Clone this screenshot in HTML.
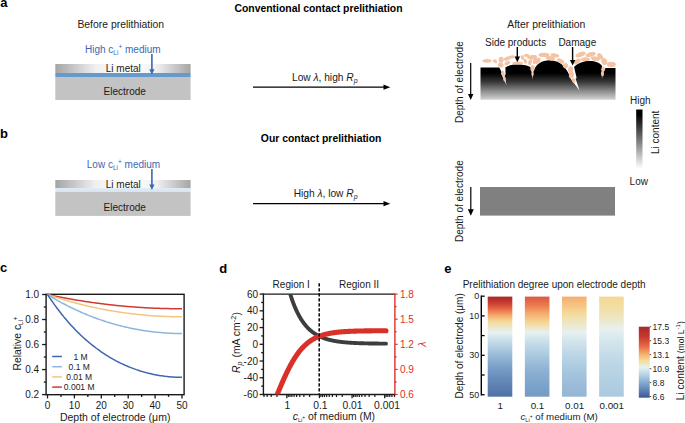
<!DOCTYPE html>
<html><head><meta charset="utf-8"><style>
html,body{margin:0;padding:0;background:#fff;}
svg{display:block;font-family:"Liberation Sans", sans-serif;}
</style></head><body>
<svg width="685" height="423" viewBox="0 0 685 423">
<defs><linearGradient id="limetal" x1="0" x2="1" y1="0" y2="0"><stop offset="0" stop-color="#a5a5a5"/><stop offset="0.3" stop-color="#f0f0f0"/><stop offset="0.55" stop-color="#ffffff"/><stop offset="0.75" stop-color="#f0f0f0"/><stop offset="1" stop-color="#a5a5a5"/></linearGradient><linearGradient id="blackgrad" x1="0" x2="0" y1="60" y2="99.8" gradientUnits="userSpaceOnUse"><stop offset="0" stop-color="#000"/><stop offset="0.33" stop-color="#000"/><stop offset="0.55" stop-color="#383838"/><stop offset="0.78" stop-color="#8c8c8c"/><stop offset="1" stop-color="#d4d4d4"/></linearGradient><linearGradient id="lcbar" x1="0" x2="0" y1="0" y2="1"><stop offset="0" stop-color="#000"/><stop offset="0.09" stop-color="#000"/><stop offset="1" stop-color="#fff"/></linearGradient><linearGradient id="ecbar" x1="0" x2="0" y1="0" y2="1"><stop offset="0.0" stop-color="#a52a28"/><stop offset="0.1432" stop-color="#c8382e"/><stop offset="0.2865" stop-color="#e9704a"/><stop offset="0.382" stop-color="#f5ad6c"/><stop offset="0.4775" stop-color="#f4dc9c"/><stop offset="0.573" stop-color="#e6f1f1"/><stop offset="0.6797" stop-color="#b6d2e4"/><stop offset="0.8078" stop-color="#7ca3cb"/><stop offset="1.0" stop-color="#3b5995"/></linearGradient><linearGradient id="bar0" x1="0" x2="0" y1="0" y2="1"><stop offset="0.00" stop-color="#a52a28"/><stop offset="0.04" stop-color="#bd332c"/><stop offset="0.08" stop-color="#d14836"/><stop offset="0.12" stop-color="#e36645"/><stop offset="0.16" stop-color="#ef8d5a"/><stop offset="0.20" stop-color="#f5b675"/><stop offset="0.24" stop-color="#f4d392"/><stop offset="0.28" stop-color="#f0e2b5"/><stop offset="0.32" stop-color="#eaead6"/><stop offset="0.36" stop-color="#e6f1f1"/><stop offset="0.40" stop-color="#d7e7ed"/><stop offset="0.44" stop-color="#c8dee9"/><stop offset="0.48" stop-color="#bad5e5"/><stop offset="0.52" stop-color="#adcae0"/><stop offset="0.56" stop-color="#a0c0da"/><stop offset="0.60" stop-color="#94b7d5"/><stop offset="0.64" stop-color="#89aed1"/><stop offset="0.68" stop-color="#7fa5cc"/><stop offset="0.72" stop-color="#779dc7"/><stop offset="0.76" stop-color="#7096c1"/><stop offset="0.80" stop-color="#6a8ebc"/><stop offset="0.84" stop-color="#6488b7"/><stop offset="0.88" stop-color="#5f82b3"/><stop offset="0.92" stop-color="#5a7cae"/><stop offset="0.96" stop-color="#5576ab"/><stop offset="1.00" stop-color="#5172a7"/></linearGradient><linearGradient id="bar1" x1="0" x2="0" y1="0" y2="1"><stop offset="0.00" stop-color="#dc5a3f"/><stop offset="0.04" stop-color="#e36745"/><stop offset="0.08" stop-color="#ea774e"/><stop offset="0.12" stop-color="#ef8e5b"/><stop offset="0.16" stop-color="#f4a768"/><stop offset="0.20" stop-color="#f5bb7a"/><stop offset="0.24" stop-color="#f4ce8d"/><stop offset="0.28" stop-color="#f2dea5"/><stop offset="0.32" stop-color="#ece8ce"/><stop offset="0.36" stop-color="#e6f1f1"/><stop offset="0.40" stop-color="#d8e8ed"/><stop offset="0.44" stop-color="#cce0ea"/><stop offset="0.48" stop-color="#c1d9e7"/><stop offset="0.52" stop-color="#b8d3e5"/><stop offset="0.56" stop-color="#b0cde1"/><stop offset="0.60" stop-color="#a8c6de"/><stop offset="0.64" stop-color="#a0c0da"/><stop offset="0.68" stop-color="#98bad7"/><stop offset="0.72" stop-color="#91b4d4"/><stop offset="0.76" stop-color="#8bafd2"/><stop offset="0.80" stop-color="#86abcf"/><stop offset="0.84" stop-color="#81a7cd"/><stop offset="0.88" stop-color="#7ca3cb"/><stop offset="0.92" stop-color="#79a0c9"/><stop offset="0.96" stop-color="#779dc7"/><stop offset="1.00" stop-color="#759bc5"/></linearGradient><linearGradient id="bar2" x1="0" x2="0" y1="0" y2="1"><stop offset="0.00" stop-color="#f5ad6c"/><stop offset="0.04" stop-color="#f5b877"/><stop offset="0.08" stop-color="#f5c382"/><stop offset="0.12" stop-color="#f4cd8d"/><stop offset="0.16" stop-color="#f4d898"/><stop offset="0.20" stop-color="#f2dfa7"/><stop offset="0.24" stop-color="#efe3b9"/><stop offset="0.28" stop-color="#ece8cb"/><stop offset="0.32" stop-color="#e9ecdf"/><stop offset="0.36" stop-color="#e6f1f1"/><stop offset="0.40" stop-color="#ddebef"/><stop offset="0.44" stop-color="#d4e6ec"/><stop offset="0.48" stop-color="#cde1ea"/><stop offset="0.52" stop-color="#c6dce8"/><stop offset="0.56" stop-color="#bfd8e7"/><stop offset="0.60" stop-color="#b9d4e5"/><stop offset="0.64" stop-color="#b4d0e3"/><stop offset="0.68" stop-color="#afcce1"/><stop offset="0.72" stop-color="#aac8df"/><stop offset="0.76" stop-color="#a6c5dd"/><stop offset="0.80" stop-color="#a2c2dc"/><stop offset="0.84" stop-color="#9fbfda"/><stop offset="0.88" stop-color="#9bbcd9"/><stop offset="0.92" stop-color="#99bad7"/><stop offset="0.96" stop-color="#96b8d6"/><stop offset="1.00" stop-color="#94b7d5"/></linearGradient><linearGradient id="bar3" x1="0" x2="0" y1="0" y2="1"><stop offset="0.00" stop-color="#f4d797"/><stop offset="0.04" stop-color="#f4da9a"/><stop offset="0.08" stop-color="#f3dda0"/><stop offset="0.12" stop-color="#f2dfa9"/><stop offset="0.16" stop-color="#f0e2b3"/><stop offset="0.20" stop-color="#eee4be"/><stop offset="0.24" stop-color="#ece8cc"/><stop offset="0.28" stop-color="#e9ecde"/><stop offset="0.32" stop-color="#e7f0ee"/><stop offset="0.36" stop-color="#e1eef0"/><stop offset="0.40" stop-color="#dbeaee"/><stop offset="0.44" stop-color="#d5e6ec"/><stop offset="0.48" stop-color="#d0e3eb"/><stop offset="0.52" stop-color="#cce0ea"/><stop offset="0.56" stop-color="#c7dde9"/><stop offset="0.60" stop-color="#c3dbe8"/><stop offset="0.64" stop-color="#bfd8e7"/><stop offset="0.68" stop-color="#bcd6e6"/><stop offset="0.72" stop-color="#bad4e5"/><stop offset="0.76" stop-color="#b7d3e4"/><stop offset="0.80" stop-color="#b5d1e3"/><stop offset="0.84" stop-color="#b2cfe2"/><stop offset="0.88" stop-color="#b0cde2"/><stop offset="0.92" stop-color="#afcce1"/><stop offset="0.96" stop-color="#adcbe0"/><stop offset="1.00" stop-color="#accae0"/></linearGradient></defs>
<rect width="685" height="423" fill="#fff"/>
<text x="0.2" y="7.2" font-size="13" fill="#000" text-anchor="start" font-weight="bold" >a</text>
<text x="77.4" y="28" font-size="10.4" fill="#1a1a1a" text-anchor="start" font-weight="normal" >Before prelithiation</text>
<text x="85" y="52.9" font-size="10" fill="#3a68b0" text-anchor="start" font-weight="normal" >High c<tspan font-size="6.5" dy="2">Li</tspan><tspan font-size="6.5" dy="-5.5">+</tspan><tspan dy="3.5"> medium</tspan></text>
<rect x="55.3" y="64" width="135.3" height="9" fill="url(#limetal)"/>
<rect x="55.3" y="73" width="135.3" height="4" fill="#6699cc"/>
<rect x="55.3" y="77" width="135.3" height="23" fill="#c3c3c3"/>
<text x="105.8" y="71.9" font-size="10" fill="#1a1a1a" text-anchor="start" font-weight="normal" >Li metal</text>
<text x="103.6" y="95.2" font-size="10" fill="#1a1a1a" text-anchor="start" font-weight="normal" >Electrode</text>
<line x1="151.9" y1="54.1" x2="151.9" y2="70" stroke="#3a68b0" stroke-width="1.6"/>
<path d="M149.3,69.2 L154.5,69.2 L151.9,74.6 Z" fill="#3a68b0"/>
<text x="234.5" y="11.5" font-size="10.4" fill="#000" text-anchor="start" font-weight="bold" >Conventional contact prelithiation</text>
<text x="292" y="81.3" font-size="10.2" fill="#1a1a1a" text-anchor="start" font-weight="normal" >Low <tspan font-style="italic">λ</tspan>, high <tspan font-style="italic">R</tspan><tspan font-style="italic" font-size="7" dy="2">p</tspan></text>
<line x1="253" y1="87.2" x2="384" y2="87.2" stroke="#000" stroke-width="1.3"/>
<path d="M383.5,84.6 L390.3,87.2 L383.5,89.8 Z" fill="#000"/>
<text x="507.3" y="27.5" font-size="10.4" fill="#1a1a1a" text-anchor="start" font-weight="normal" >After prelithiation</text>
<text x="485" y="45.5" font-size="10" fill="#1a1a1a" text-anchor="start" font-weight="normal" >Side products</text>
<text x="558.4" y="45.5" font-size="10" fill="#1a1a1a" text-anchor="start" font-weight="normal" >Damage</text>
<text x="0" y="0" font-size="10" fill="#1a1a1a" transform="translate(462.8,123) rotate(-90)">Depth of electrode</text>
<line x1="470.7" y1="63" x2="470.7" y2="95" stroke="#000" stroke-width="1.2"/>
<path d="M468,94 L473.4,94 L470.7,100 Z" fill="#000"/>
<path d="M480.5,99.8 L480.5,67.4 L499.3,67.6 L501.8,72.5 L501,73.2 L506.4,84.9 L504.6,75.5 L505.6,74.6 L505.4,67.4 C508.5,65.2 513,64.6 518,64.6 C523.5,64.6 528.5,65.4 531.2,68 L532.4,79.2 L533.3,72 C536,63.5 542,60.2 549.5,60.2 C557,60.2 563.5,63.8 567.3,71.2 L569.6,75.2 L568.8,76.2 L579.5,90.5 L575.6,78.8 L576.6,78 L574.1,67 C578,62.8 584,61 590,61 C595.5,61 599.8,62.8 602,65.8 L601.9,79.3 L603.2,71.8 L605.5,68 L615.5,68 L615.5,99.8 Z" fill="url(#blackgrad)"/>
<ellipse cx="0" cy="0" rx="4.56" ry="1.88" fill="#f2c4a4" transform="translate(487,60.8) rotate(0)"/>
<ellipse cx="0" cy="0" rx="2.40" ry="1.62" fill="#f2c4a4" transform="translate(495,61.2) rotate(30)"/>
<ellipse cx="0" cy="0" rx="2.52" ry="3.00" fill="#f2c4a4" transform="translate(501.2,59.8) rotate(0)"/>
<ellipse cx="0" cy="0" rx="2.88" ry="2.38" fill="#f2c4a4" transform="translate(500.7,65) rotate(20)"/>
<ellipse cx="0" cy="0" rx="3.60" ry="1.88" fill="#f2c4a4" transform="translate(507.3,58.4) rotate(-20)"/>
<ellipse cx="0" cy="0" rx="3.12" ry="1.62" fill="#f2c4a4" transform="translate(511.5,57) rotate(-10)"/>
<ellipse cx="0" cy="0" rx="3.00" ry="1.88" fill="#f2c4a4" transform="translate(507.3,63.1) rotate(-30)"/>
<ellipse cx="0" cy="0" rx="5.40" ry="1.62" fill="#f2c4a4" transform="translate(517.7,63.0) rotate(0)"/>
<ellipse cx="0" cy="0" rx="1.80" ry="2.50" fill="#f2c4a4" transform="translate(522.5,57.5) rotate(-20)"/>
<ellipse cx="0" cy="0" rx="1.80" ry="2.50" fill="#f2c4a4" transform="translate(525.3,61.2) rotate(-20)"/>
<ellipse cx="0" cy="0" rx="4.20" ry="1.75" fill="#f2c4a4" transform="translate(531,57) rotate(-10)"/>
<ellipse cx="0" cy="0" rx="1.80" ry="3.00" fill="#f2c4a4" transform="translate(530,62.2) rotate(10)"/>
<ellipse cx="0" cy="0" rx="1.80" ry="3.00" fill="#f2c4a4" transform="translate(534.8,61.2) rotate(20)"/>
<ellipse cx="0" cy="0" rx="1.56" ry="3.00" fill="#f2c4a4" transform="translate(503,73.5) rotate(-10)"/>
<ellipse cx="0" cy="0" rx="1.32" ry="2.50" fill="#f2c4a4" transform="translate(504.5,79) rotate(-10)"/>
<ellipse cx="0" cy="0" rx="1.56" ry="2.50" fill="#f2c4a4" transform="translate(532.9,68.8) rotate(0)"/>
<ellipse cx="0" cy="0" rx="1.20" ry="2.00" fill="#f2c4a4" transform="translate(532.6,74) rotate(0)"/>
<ellipse cx="0" cy="0" rx="3.96" ry="2.12" fill="#f2c4a4" transform="translate(533.3,57.4) rotate(-15)"/>
<ellipse cx="0" cy="0" rx="3.60" ry="2.38" fill="#f2c4a4" transform="translate(537.5,60.7) rotate(-45)"/>
<ellipse cx="0" cy="0" rx="2.04" ry="3.25" fill="#f2c4a4" transform="translate(532.5,68.2) rotate(10)"/>
<ellipse cx="0" cy="0" rx="5.40" ry="2.12" fill="#f2c4a4" transform="translate(544,54.9) rotate(0)"/>
<ellipse cx="0" cy="0" rx="4.80" ry="2.25" fill="#f2c4a4" transform="translate(550.3,58.2) rotate(10)"/>
<ellipse cx="0" cy="0" rx="4.44" ry="1.88" fill="#f2c4a4" transform="translate(554.8,55.3) rotate(10)"/>
<ellipse cx="0" cy="0" rx="3.96" ry="2.00" fill="#f2c4a4" transform="translate(560.6,61.1) rotate(30)"/>
<ellipse cx="0" cy="0" rx="2.64" ry="2.62" fill="#f2c4a4" transform="translate(565.6,65.7) rotate(50)"/>
<ellipse cx="0" cy="0" rx="2.52" ry="3.25" fill="#f2c4a4" transform="translate(570.6,69.4) rotate(0)"/>
<ellipse cx="0" cy="0" rx="2.52" ry="3.25" fill="#f2c4a4" transform="translate(571.4,74.8) rotate(0)"/>
<ellipse cx="0" cy="0" rx="1.80" ry="2.75" fill="#f2c4a4" transform="translate(573.6,80.5) rotate(-20)"/>
<ellipse cx="0" cy="0" rx="5.40" ry="2.50" fill="#f2c4a4" transform="translate(580.6,54.5) rotate(-20)"/>
<ellipse cx="0" cy="0" rx="3.96" ry="2.38" fill="#f2c4a4" transform="translate(577.1,61.5) rotate(-30)"/>
<ellipse cx="0" cy="0" rx="5.40" ry="2.25" fill="#f2c4a4" transform="translate(590.7,54.5) rotate(-15)"/>
<ellipse cx="0" cy="0" rx="4.56" ry="1.88" fill="#f2c4a4" transform="translate(585.4,59.2) rotate(0)"/>
<ellipse cx="0" cy="0" rx="4.56" ry="2.12" fill="#f2c4a4" transform="translate(595.4,58.6) rotate(10)"/>
<ellipse cx="0" cy="0" rx="2.28" ry="3.50" fill="#f2c4a4" transform="translate(600.1,56.2) rotate(-40)"/>
<ellipse cx="0" cy="0" rx="2.88" ry="3.50" fill="#f2c4a4" transform="translate(604.3,61.5) rotate(-20)"/>
<ellipse cx="0" cy="0" rx="4.44" ry="2.75" fill="#f2c4a4" transform="translate(611.4,64.5) rotate(0)"/>
<ellipse cx="0" cy="0" rx="1.92" ry="2.75" fill="#f2c4a4" transform="translate(603.1,69.2) rotate(0)"/>
<ellipse cx="0" cy="0" rx="1.56" ry="2.75" fill="#f2c4a4" transform="translate(602.5,73.4) rotate(0)"/>
<ellipse cx="0" cy="0" rx="2.76" ry="1.62" fill="#f2c4a4" transform="translate(526.5,55.3) rotate(0)"/>
<line x1="517.3" y1="47" x2="517.3" y2="57" stroke="#000" stroke-width="1.4"/>
<path d="M514.6,56.5 L520,56.5 L517.3,62.2 Z" fill="#000"/>
<line x1="572.6" y1="47" x2="572.6" y2="60.5" stroke="#000" stroke-width="1.4"/>
<path d="M569.9,60 L575.3,60 L572.6,65.6 Z" fill="#000"/>
<text x="630" y="104" font-size="10" fill="#1a1a1a" text-anchor="start" font-weight="normal" >High</text>
<rect x="636.2" y="109.5" width="6.3" height="59" fill="url(#lcbar)"/>
<text x="0" y="0" font-size="10" fill="#1a1a1a" transform="translate(658.7,154) rotate(-90)">Li content</text>
<text x="629.6" y="184.6" font-size="10" fill="#1a1a1a" text-anchor="start" font-weight="normal" >Low</text>
<text x="0" y="137.7" font-size="13" fill="#000" text-anchor="start" font-weight="bold" >b</text>
<text x="260.8" y="141.5" font-size="10.4" fill="#000" text-anchor="start" font-weight="bold" >Our contact prelithiation</text>
<text x="86.8" y="167.9" font-size="10" fill="#3a68b0" text-anchor="start" font-weight="normal" >Low c<tspan font-size="6.5" dy="2">Li</tspan><tspan font-size="6.5" dy="-5.5">+</tspan><tspan dy="3.5"> medium</tspan></text>
<rect x="55.3" y="180" width="135.3" height="8.3" fill="url(#limetal)"/>
<rect x="55.3" y="188.3" width="135.3" height="3.5" fill="#dbe7f3"/>
<rect x="55.3" y="191.8" width="135.3" height="24.1" fill="#c3c3c3"/>
<text x="105.8" y="187.8" font-size="10" fill="#1a1a1a" text-anchor="start" font-weight="normal" >Li metal</text>
<text x="103.6" y="211" font-size="10" fill="#1a1a1a" text-anchor="start" font-weight="normal" >Electrode</text>
<line x1="151.9" y1="169.1" x2="151.9" y2="185.5" stroke="#3a68b0" stroke-width="1.6"/>
<path d="M149.3,184.4 L154.5,184.4 L151.9,190 Z" fill="#3a68b0"/>
<text x="293.7" y="196.8" font-size="10.2" fill="#1a1a1a" text-anchor="start" font-weight="normal" >High <tspan font-style="italic">λ</tspan>, low <tspan font-style="italic">R</tspan><tspan font-style="italic" font-size="7" dy="2">p</tspan></text>
<line x1="253" y1="203.7" x2="384" y2="203.7" stroke="#000" stroke-width="1.3"/>
<path d="M383.5,201.1 L390.3,203.7 L383.5,206.3 Z" fill="#000"/>
<text x="0" y="0" font-size="10" fill="#1a1a1a" transform="translate(462.8,242) rotate(-90)">Depth of electrode</text>
<line x1="470.8" y1="187" x2="470.8" y2="210" stroke="#000" stroke-width="1.2"/>
<path d="M467.8,209.3 L473.8,209.3 L470.8,215.8 Z" fill="#000"/>
<rect x="480" y="187" width="135" height="28.6" fill="#808080"/>
<text x="0" y="272" font-size="13" fill="#000" text-anchor="start" font-weight="bold" >c</text>
<rect x="46.1" y="294.3" width="138.0" height="100.39999999999998" fill="none" stroke="#1a1a1a" stroke-width="1.4"/>
<line x1="42.1" y1="294.5" x2="46.1" y2="294.5" stroke="#1a1a1a" stroke-width="1.3"/>
<text x="39.2" y="298.1" font-size="10" fill="#1a1a1a" text-anchor="end" font-weight="normal" >1.0</text>
<line x1="42.1" y1="319.52" x2="46.1" y2="319.52" stroke="#1a1a1a" stroke-width="1.3"/>
<text x="39.2" y="323.12" font-size="10" fill="#1a1a1a" text-anchor="end" font-weight="normal" >0.8</text>
<line x1="42.1" y1="344.54" x2="46.1" y2="344.54" stroke="#1a1a1a" stroke-width="1.3"/>
<text x="39.2" y="348.14000000000004" font-size="10" fill="#1a1a1a" text-anchor="end" font-weight="normal" >0.6</text>
<line x1="42.1" y1="369.56" x2="46.1" y2="369.56" stroke="#1a1a1a" stroke-width="1.3"/>
<text x="39.2" y="373.16" font-size="10" fill="#1a1a1a" text-anchor="end" font-weight="normal" >0.4</text>
<line x1="42.1" y1="394.58" x2="46.1" y2="394.58" stroke="#1a1a1a" stroke-width="1.3"/>
<text x="39.2" y="398.18" font-size="10" fill="#1a1a1a" text-anchor="end" font-weight="normal" >0.2</text>
<line x1="43.800000000000004" y1="307.01" x2="46.1" y2="307.01" stroke="#1a1a1a" stroke-width="1.3"/>
<line x1="43.800000000000004" y1="332.03" x2="46.1" y2="332.03" stroke="#1a1a1a" stroke-width="1.3"/>
<line x1="43.800000000000004" y1="357.05" x2="46.1" y2="357.05" stroke="#1a1a1a" stroke-width="1.3"/>
<line x1="43.800000000000004" y1="382.07" x2="46.1" y2="382.07" stroke="#1a1a1a" stroke-width="1.3"/>
<line x1="47.5" y1="394.7" x2="47.5" y2="398.4" stroke="#1a1a1a" stroke-width="1.3"/>
<text x="47.5" y="408.6" font-size="10" fill="#1a1a1a" text-anchor="middle" font-weight="normal" >0</text>
<line x1="74.4" y1="394.7" x2="74.4" y2="398.4" stroke="#1a1a1a" stroke-width="1.3"/>
<text x="74.4" y="408.6" font-size="10" fill="#1a1a1a" text-anchor="middle" font-weight="normal" >10</text>
<line x1="101.3" y1="394.7" x2="101.3" y2="398.4" stroke="#1a1a1a" stroke-width="1.3"/>
<text x="101.3" y="408.6" font-size="10" fill="#1a1a1a" text-anchor="middle" font-weight="normal" >20</text>
<line x1="128.2" y1="394.7" x2="128.2" y2="398.4" stroke="#1a1a1a" stroke-width="1.3"/>
<text x="128.2" y="408.6" font-size="10" fill="#1a1a1a" text-anchor="middle" font-weight="normal" >30</text>
<line x1="155.1" y1="394.7" x2="155.1" y2="398.4" stroke="#1a1a1a" stroke-width="1.3"/>
<text x="155.1" y="408.6" font-size="10" fill="#1a1a1a" text-anchor="middle" font-weight="normal" >40</text>
<line x1="182.0" y1="394.7" x2="182.0" y2="398.4" stroke="#1a1a1a" stroke-width="1.3"/>
<text x="182.0" y="408.6" font-size="10" fill="#1a1a1a" text-anchor="middle" font-weight="normal" >50</text>
<line x1="60.95" y1="394.7" x2="60.95" y2="396.9" stroke="#1a1a1a" stroke-width="1.3"/>
<line x1="87.85" y1="394.7" x2="87.85" y2="396.9" stroke="#1a1a1a" stroke-width="1.3"/>
<line x1="114.75" y1="394.7" x2="114.75" y2="396.9" stroke="#1a1a1a" stroke-width="1.3"/>
<line x1="141.64999999999998" y1="394.7" x2="141.64999999999998" y2="396.9" stroke="#1a1a1a" stroke-width="1.3"/>
<line x1="168.55" y1="394.7" x2="168.55" y2="396.9" stroke="#1a1a1a" stroke-width="1.3"/>
<polyline points="47.50,294.50 48.84,294.79 50.19,295.08 51.53,295.36 52.88,295.64 54.23,295.92 55.57,296.19 56.91,296.46 58.26,296.73 59.61,296.99 60.95,297.26 62.30,297.51 63.64,297.77 64.98,298.02 66.33,298.27 67.67,298.52 69.02,298.76 70.36,299.00 71.71,299.24 73.06,299.47 74.40,299.70 75.75,299.93 77.09,300.16 78.44,300.38 79.78,300.60 81.12,300.81 82.47,301.03 83.81,301.24 85.16,301.44 86.50,301.65 87.85,301.85 89.19,302.05 90.54,302.24 91.88,302.43 93.23,302.62 94.57,302.81 95.92,302.99 97.27,303.17 98.61,303.35 99.95,303.52 101.30,303.70 102.64,303.86 103.99,304.03 105.34,304.19 106.68,304.35 108.03,304.51 109.37,304.66 110.72,304.82 112.06,304.96 113.41,305.11 114.75,305.25 116.09,305.39 117.44,305.53 118.78,305.66 120.13,305.79 121.47,305.92 122.82,306.05 124.16,306.17 125.51,306.29 126.86,306.41 128.20,306.52 129.55,306.63 130.89,306.74 132.24,306.84 133.58,306.95 134.93,307.05 136.27,307.14 137.62,307.24 138.96,307.33 140.31,307.42 141.65,307.50 143.00,307.58 144.34,307.66 145.69,307.74 147.03,307.82 148.38,307.89 149.72,307.96 151.06,308.02 152.41,308.08 153.75,308.14 155.10,308.20 156.44,308.26 157.79,308.31 159.13,308.36 160.48,308.40 161.82,308.45 163.17,308.49 164.51,308.53 165.86,308.56 167.20,308.59 168.55,308.62 169.89,308.65 171.24,308.67 172.58,308.69 173.93,308.71 175.27,308.73 176.62,308.74 177.97,308.75 179.31,308.76 180.66,308.76 182.00,308.76" fill="none" stroke="#d13a33" stroke-width="1.5"/>
<polyline points="47.50,294.50 48.84,294.96 50.19,295.41 51.53,295.86 52.88,296.30 54.23,296.74 55.57,297.17 56.91,297.60 58.26,298.02 59.61,298.44 60.95,298.85 62.30,299.26 63.64,299.66 64.98,300.05 66.33,300.45 67.67,300.83 69.02,301.22 70.36,301.59 71.71,301.96 73.06,302.33 74.40,302.69 75.75,303.05 77.09,303.40 78.44,303.75 79.78,304.09 81.12,304.43 82.47,304.76 83.81,305.09 85.16,305.42 86.50,305.73 87.85,306.05 89.19,306.36 90.54,306.66 91.88,306.96 93.23,307.26 94.57,307.55 95.92,307.83 97.27,308.11 98.61,308.39 99.95,308.66 101.30,308.93 102.64,309.19 103.99,309.45 105.34,309.70 106.68,309.95 108.03,310.19 109.37,310.43 110.72,310.67 112.06,310.90 113.41,311.12 114.75,311.34 116.09,311.56 117.44,311.77 118.78,311.98 120.13,312.18 121.47,312.38 122.82,312.58 124.16,312.77 125.51,312.95 126.86,313.13 128.20,313.31 129.55,313.48 130.89,313.65 132.24,313.81 133.58,313.97 134.93,314.12 136.27,314.27 137.62,314.42 138.96,314.56 140.31,314.69 141.65,314.83 143.00,314.95 144.34,315.08 145.69,315.20 147.03,315.31 148.38,315.42 149.72,315.53 151.06,315.63 152.41,315.73 153.75,315.82 155.10,315.91 156.44,315.99 157.79,316.07 159.13,316.15 160.48,316.22 161.82,316.28 163.17,316.35 164.51,316.40 165.86,316.46 167.20,316.51 168.55,316.55 169.89,316.59 171.24,316.63 172.58,316.66 173.93,316.69 175.27,316.71 176.62,316.73 177.97,316.75 179.31,316.76 180.66,316.77 182.00,316.77" fill="none" stroke="#f5c57f" stroke-width="1.5"/>
<polyline points="47.50,294.50 48.84,295.33 50.19,296.15 51.53,296.96 52.88,297.76 54.23,298.54 55.57,299.32 56.91,300.09 58.26,300.85 59.61,301.59 60.95,302.33 62.30,303.06 63.64,303.78 64.98,304.48 66.33,305.18 67.67,305.87 69.02,306.55 70.36,307.22 71.71,307.88 73.06,308.53 74.40,309.17 75.75,309.80 77.09,310.42 78.44,311.04 79.78,311.64 81.12,312.24 82.47,312.82 83.81,313.40 85.16,313.97 86.50,314.52 87.85,315.07 89.19,315.62 90.54,316.15 91.88,316.67 93.23,317.19 94.57,317.69 95.92,318.19 97.27,318.68 98.61,319.16 99.95,319.63 101.30,320.09 102.64,320.55 103.99,321.00 105.34,321.43 106.68,321.86 108.03,322.29 109.37,322.70 110.72,323.10 112.06,323.50 113.41,323.89 114.75,324.27 116.09,324.64 117.44,325.01 118.78,325.37 120.13,325.71 121.47,326.06 122.82,326.39 124.16,326.71 125.51,327.03 126.86,327.34 128.20,327.64 129.55,327.94 130.89,328.22 132.24,328.50 133.58,328.77 134.93,329.03 136.27,329.29 137.62,329.54 138.96,329.78 140.31,330.01 141.65,330.23 143.00,330.45 144.34,330.66 145.69,330.86 147.03,331.06 148.38,331.25 149.72,331.43 151.06,331.60 152.41,331.76 153.75,331.92 155.10,332.07 156.44,332.21 157.79,332.35 159.13,332.48 160.48,332.60 161.82,332.71 163.17,332.82 164.51,332.92 165.86,333.01 167.20,333.09 168.55,333.17 169.89,333.24 171.24,333.30 172.58,333.35 173.93,333.40 175.27,333.44 176.62,333.47 177.97,333.50 179.31,333.52 180.66,333.53 182.00,333.53" fill="none" stroke="#8cb6dc" stroke-width="1.5"/>
<polyline points="47.50,294.50 48.84,296.54 50.19,298.54 51.53,300.50 52.88,302.43 54.23,304.33 55.57,306.18 56.91,308.00 58.26,309.79 59.61,311.55 60.95,313.27 62.30,314.96 63.64,316.62 64.98,318.24 66.33,319.84 67.67,321.40 69.02,322.93 70.36,324.44 71.71,325.92 73.06,327.36 74.40,328.78 75.75,330.17 77.09,331.54 78.44,332.87 79.78,334.18 81.12,335.47 82.47,336.73 83.81,337.96 85.16,339.17 86.50,340.35 87.85,341.51 89.19,342.65 90.54,343.76 91.88,344.85 93.23,345.91 94.57,346.96 95.92,347.98 97.27,348.98 98.61,349.96 99.95,350.91 101.30,351.85 102.64,352.76 103.99,353.66 105.34,354.53 106.68,355.39 108.03,356.22 109.37,357.04 110.72,357.84 112.06,358.61 113.41,359.37 114.75,360.11 116.09,360.83 117.44,361.54 118.78,362.23 120.13,362.89 121.47,363.55 122.82,364.18 124.16,364.80 125.51,365.40 126.86,365.98 128.20,366.55 129.55,367.10 130.89,367.64 132.24,368.16 133.58,368.66 134.93,369.15 136.27,369.63 137.62,370.08 138.96,370.53 140.31,370.95 141.65,371.37 143.00,371.77 144.34,372.15 145.69,372.52 147.03,372.87 148.38,373.21 149.72,373.54 151.06,373.85 152.41,374.15 153.75,374.44 155.10,374.71 156.44,374.96 157.79,375.21 159.13,375.44 160.48,375.65 161.82,375.85 163.17,376.04 164.51,376.22 165.86,376.38 167.20,376.53 168.55,376.67 169.89,376.79 171.24,376.90 172.58,377.00 173.93,377.08 175.27,377.15 176.62,377.21 177.97,377.26 179.31,377.29 180.66,377.31 182.00,377.32" fill="none" stroke="#3f67ae" stroke-width="1.5"/>
<line x1="52.2" y1="356.5" x2="61.9" y2="356.5" stroke="#3f67ae" stroke-width="1.5"/>
<text x="80.60000000000001" y="359.7" font-size="8.5" fill="#1a1a1a" text-anchor="middle" font-weight="normal" >1 M</text>
<line x1="52.2" y1="366.7" x2="61.9" y2="366.7" stroke="#8cb6dc" stroke-width="1.5"/>
<text x="79.2" y="369.9" font-size="8.5" fill="#1a1a1a" text-anchor="middle" font-weight="normal" >0.1 M</text>
<line x1="52.2" y1="376.9" x2="61.9" y2="376.9" stroke="#f5c57f" stroke-width="1.5"/>
<text x="79.2" y="380.09999999999997" font-size="8.5" fill="#1a1a1a" text-anchor="middle" font-weight="normal" >0.01 M</text>
<line x1="52.2" y1="387.1" x2="61.9" y2="387.1" stroke="#d13a33" stroke-width="1.5"/>
<text x="79.2" y="390.3" font-size="8.5" fill="#1a1a1a" text-anchor="middle" font-weight="normal" >0.001 M</text>
<text x="0" y="0" font-size="10.4" fill="#1a1a1a" transform="translate(21.3,370.5) rotate(-90)">Relative c<tspan font-size="6.3" dy="2">Li</tspan><tspan font-size="6.3" dy="-5" dx="-0.3">+</tspan></text>
<text x="59.9" y="420.6" font-size="10.5" fill="#1a1a1a" text-anchor="start" font-weight="normal" >Depth of electrode (μm)</text>
<text x="219.3" y="273" font-size="13" fill="#000" text-anchor="start" font-weight="bold" >d</text>
<line x1="263.4" y1="294.1" x2="394.9" y2="294.1" stroke="#1a1a1a" stroke-width="1.4"/>
<line x1="263.4" y1="394.5" x2="394.9" y2="394.5" stroke="#1a1a1a" stroke-width="1.4"/>
<line x1="263.4" y1="293.40000000000003" x2="263.4" y2="395.2" stroke="#1a1a1a" stroke-width="1.4"/>
<line x1="394.9" y1="293.40000000000003" x2="394.9" y2="395.2" stroke="#d9302a" stroke-width="1.4"/>
<line x1="259.59999999999997" y1="294.1" x2="263.4" y2="294.1" stroke="#1a1a1a" stroke-width="1.3"/>
<text x="258" y="297.6" font-size="10" fill="#1a1a1a" text-anchor="end" font-weight="normal" >60</text>
<line x1="259.59999999999997" y1="310.83333333333337" x2="263.4" y2="310.83333333333337" stroke="#1a1a1a" stroke-width="1.3"/>
<text x="258" y="314.33333333333337" font-size="10" fill="#1a1a1a" text-anchor="end" font-weight="normal" >40</text>
<line x1="259.59999999999997" y1="327.5666666666667" x2="263.4" y2="327.5666666666667" stroke="#1a1a1a" stroke-width="1.3"/>
<text x="258" y="331.0666666666667" font-size="10" fill="#1a1a1a" text-anchor="end" font-weight="normal" >20</text>
<line x1="259.59999999999997" y1="344.3" x2="263.4" y2="344.3" stroke="#1a1a1a" stroke-width="1.3"/>
<text x="258" y="347.8" font-size="10" fill="#1a1a1a" text-anchor="end" font-weight="normal" >0</text>
<line x1="259.59999999999997" y1="361.03333333333336" x2="263.4" y2="361.03333333333336" stroke="#1a1a1a" stroke-width="1.3"/>
<text x="258" y="364.53333333333336" font-size="10" fill="#1a1a1a" text-anchor="end" font-weight="normal" >-20</text>
<line x1="259.59999999999997" y1="377.7666666666667" x2="263.4" y2="377.7666666666667" stroke="#1a1a1a" stroke-width="1.3"/>
<text x="258" y="381.2666666666667" font-size="10" fill="#1a1a1a" text-anchor="end" font-weight="normal" >-40</text>
<line x1="259.59999999999997" y1="394.5" x2="263.4" y2="394.5" stroke="#1a1a1a" stroke-width="1.3"/>
<text x="258" y="398.0" font-size="10" fill="#1a1a1a" text-anchor="end" font-weight="normal" >-60</text>
<line x1="261.2" y1="302.4666666666667" x2="263.4" y2="302.4666666666667" stroke="#1a1a1a" stroke-width="1.3"/>
<line x1="261.2" y1="319.20000000000005" x2="263.4" y2="319.20000000000005" stroke="#1a1a1a" stroke-width="1.3"/>
<line x1="261.2" y1="335.93333333333334" x2="263.4" y2="335.93333333333334" stroke="#1a1a1a" stroke-width="1.3"/>
<line x1="261.2" y1="352.6666666666667" x2="263.4" y2="352.6666666666667" stroke="#1a1a1a" stroke-width="1.3"/>
<line x1="261.2" y1="369.40000000000003" x2="263.4" y2="369.40000000000003" stroke="#1a1a1a" stroke-width="1.3"/>
<line x1="261.2" y1="386.1333333333333" x2="263.4" y2="386.1333333333333" stroke="#1a1a1a" stroke-width="1.3"/>
<line x1="394.9" y1="294.1" x2="397.7" y2="294.1" stroke="#d9302a" stroke-width="1.1"/>
<text x="399.9" y="297.70000000000005" font-size="10" fill="#d9302a" text-anchor="start" font-weight="normal" >1.8</text>
<line x1="394.9" y1="319.20000000000005" x2="397.7" y2="319.20000000000005" stroke="#d9302a" stroke-width="1.1"/>
<text x="399.9" y="322.80000000000007" font-size="10" fill="#d9302a" text-anchor="start" font-weight="normal" >1.5</text>
<line x1="394.9" y1="344.30000000000007" x2="397.7" y2="344.30000000000007" stroke="#d9302a" stroke-width="1.1"/>
<text x="399.9" y="347.9000000000001" font-size="10" fill="#d9302a" text-anchor="start" font-weight="normal" >1.2</text>
<line x1="394.9" y1="369.40000000000003" x2="397.7" y2="369.40000000000003" stroke="#d9302a" stroke-width="1.1"/>
<text x="399.9" y="373.00000000000006" font-size="10" fill="#d9302a" text-anchor="start" font-weight="normal" >0.9</text>
<line x1="394.9" y1="394.50000000000006" x2="397.7" y2="394.50000000000006" stroke="#d9302a" stroke-width="1.1"/>
<text x="399.9" y="398.1000000000001" font-size="10" fill="#d9302a" text-anchor="start" font-weight="normal" >0.6</text>
<line x1="394.9" y1="306.65000000000003" x2="396.7" y2="306.65000000000003" stroke="#d9302a" stroke-width="1.1"/>
<line x1="394.9" y1="331.75" x2="396.7" y2="331.75" stroke="#d9302a" stroke-width="1.1"/>
<line x1="394.9" y1="356.85" x2="396.7" y2="356.85" stroke="#d9302a" stroke-width="1.1"/>
<line x1="394.9" y1="381.95000000000005" x2="396.7" y2="381.95000000000005" stroke="#d9302a" stroke-width="1.1"/>
<line x1="286.8" y1="394.5" x2="286.8" y2="398.2" stroke="#1a1a1a" stroke-width="1.3"/>
<text x="287.40000000000003" y="409" font-size="10.3" fill="#1a1a1a" text-anchor="middle" font-weight="normal" >1</text>
<line x1="319.43" y1="394.5" x2="319.43" y2="398.2" stroke="#1a1a1a" stroke-width="1.3"/>
<text x="320.33" y="409" font-size="10.3" fill="#1a1a1a" text-anchor="middle" font-weight="normal" >0.1</text>
<line x1="352.06" y1="394.5" x2="352.06" y2="398.2" stroke="#1a1a1a" stroke-width="1.3"/>
<text x="352.56" y="409" font-size="10.3" fill="#1a1a1a" text-anchor="middle" font-weight="normal" >0.01</text>
<line x1="384.69000000000005" y1="394.5" x2="384.69000000000005" y2="398.2" stroke="#1a1a1a" stroke-width="1.3"/>
<text x="386.99000000000007" y="409" font-size="10.3" fill="#1a1a1a" text-anchor="middle" font-weight="normal" >0.001</text>
<line x1="276.98" y1="394.5" x2="276.98" y2="397.1" stroke="#1a1a1a" stroke-width="1.2"/>
<line x1="271.23" y1="394.5" x2="271.23" y2="397.1" stroke="#1a1a1a" stroke-width="1.2"/>
<line x1="267.15" y1="394.5" x2="267.15" y2="397.1" stroke="#1a1a1a" stroke-width="1.2"/>
<line x1="263.99" y1="394.5" x2="263.99" y2="397.1" stroke="#1a1a1a" stroke-width="1.2"/>
<line x1="309.61" y1="394.5" x2="309.61" y2="397.1" stroke="#1a1a1a" stroke-width="1.2"/>
<line x1="303.86" y1="394.5" x2="303.86" y2="397.1" stroke="#1a1a1a" stroke-width="1.2"/>
<line x1="299.78" y1="394.5" x2="299.78" y2="397.1" stroke="#1a1a1a" stroke-width="1.2"/>
<line x1="296.62" y1="394.5" x2="296.62" y2="397.1" stroke="#1a1a1a" stroke-width="1.2"/>
<line x1="294.04" y1="394.5" x2="294.04" y2="397.1" stroke="#1a1a1a" stroke-width="1.2"/>
<line x1="291.85" y1="394.5" x2="291.85" y2="397.1" stroke="#1a1a1a" stroke-width="1.2"/>
<line x1="289.96" y1="394.5" x2="289.96" y2="397.1" stroke="#1a1a1a" stroke-width="1.2"/>
<line x1="288.29" y1="394.5" x2="288.29" y2="397.1" stroke="#1a1a1a" stroke-width="1.2"/>
<line x1="342.24" y1="394.5" x2="342.24" y2="397.1" stroke="#1a1a1a" stroke-width="1.2"/>
<line x1="336.49" y1="394.5" x2="336.49" y2="397.1" stroke="#1a1a1a" stroke-width="1.2"/>
<line x1="332.41" y1="394.5" x2="332.41" y2="397.1" stroke="#1a1a1a" stroke-width="1.2"/>
<line x1="329.25" y1="394.5" x2="329.25" y2="397.1" stroke="#1a1a1a" stroke-width="1.2"/>
<line x1="326.67" y1="394.5" x2="326.67" y2="397.1" stroke="#1a1a1a" stroke-width="1.2"/>
<line x1="324.48" y1="394.5" x2="324.48" y2="397.1" stroke="#1a1a1a" stroke-width="1.2"/>
<line x1="322.59" y1="394.5" x2="322.59" y2="397.1" stroke="#1a1a1a" stroke-width="1.2"/>
<line x1="320.92" y1="394.5" x2="320.92" y2="397.1" stroke="#1a1a1a" stroke-width="1.2"/>
<line x1="374.87" y1="394.5" x2="374.87" y2="397.1" stroke="#1a1a1a" stroke-width="1.2"/>
<line x1="369.12" y1="394.5" x2="369.12" y2="397.1" stroke="#1a1a1a" stroke-width="1.2"/>
<line x1="365.04" y1="394.5" x2="365.04" y2="397.1" stroke="#1a1a1a" stroke-width="1.2"/>
<line x1="361.88" y1="394.5" x2="361.88" y2="397.1" stroke="#1a1a1a" stroke-width="1.2"/>
<line x1="359.30" y1="394.5" x2="359.30" y2="397.1" stroke="#1a1a1a" stroke-width="1.2"/>
<line x1="357.11" y1="394.5" x2="357.11" y2="397.1" stroke="#1a1a1a" stroke-width="1.2"/>
<line x1="355.22" y1="394.5" x2="355.22" y2="397.1" stroke="#1a1a1a" stroke-width="1.2"/>
<line x1="353.55" y1="394.5" x2="353.55" y2="397.1" stroke="#1a1a1a" stroke-width="1.2"/>
<line x1="394.51" y1="394.5" x2="394.51" y2="397.1" stroke="#1a1a1a" stroke-width="1.2"/>
<line x1="391.93" y1="394.5" x2="391.93" y2="397.1" stroke="#1a1a1a" stroke-width="1.2"/>
<line x1="389.74" y1="394.5" x2="389.74" y2="397.1" stroke="#1a1a1a" stroke-width="1.2"/>
<line x1="387.85" y1="394.5" x2="387.85" y2="397.1" stroke="#1a1a1a" stroke-width="1.2"/>
<line x1="386.18" y1="394.5" x2="386.18" y2="397.1" stroke="#1a1a1a" stroke-width="1.2"/>
<text x="272.6" y="288" font-size="10" fill="#1a1a1a" text-anchor="start" font-weight="normal" >Region I</text>
<text x="339" y="288" font-size="10" fill="#1a1a1a" text-anchor="start" font-weight="normal" >Region II</text>
<clipPath id="dclip"><rect x="263.4" y="294.1" width="140" height="100.4"/></clipPath>
<polyline clip-path="url(#dclip)" points="290.50,294.92 290.75,295.71 291.00,296.48 291.25,297.24 291.50,297.99 291.75,298.72 292.00,299.45 292.25,300.16 292.50,300.86 292.75,301.55 293.00,302.23 293.25,302.90 293.50,303.56 293.75,304.21 294.00,304.84 294.25,305.47 294.50,306.09 294.75,306.69 295.00,307.29 295.25,307.88 295.50,308.45 295.75,309.02 296.00,309.58 296.25,310.13 296.50,310.67 296.75,311.20 297.00,311.73 297.25,312.24 297.50,312.75 297.75,313.25 298.00,313.74 298.25,314.22 298.50,314.70 298.75,315.17 299.00,315.63 299.25,316.08 299.50,316.52 299.75,316.96 300.00,317.39 300.25,317.82 300.50,318.24 300.75,318.65 301.00,319.05 301.25,319.45 301.50,319.84 301.75,320.22 302.00,320.60 302.25,320.97 302.50,321.34 302.75,321.70 303.00,322.06 303.25,322.41 303.50,322.75 303.75,323.09 304.00,323.42 304.25,323.75 304.50,324.07 304.75,324.39 305.00,324.70 305.25,325.00 305.50,325.31 305.75,325.60 306.00,325.89 306.25,326.18 306.50,326.46 306.75,326.74 307.00,327.02 307.25,327.29 307.50,327.55 307.75,327.81 308.00,328.07 308.25,328.32 308.50,328.57 308.75,328.81 309.00,329.05 309.25,329.29 309.50,329.52 309.75,329.75 310.00,329.98 310.25,330.20 310.50,330.42 310.75,330.63 311.00,330.84 311.25,331.05 311.50,331.25 311.75,331.45 312.00,331.65 312.25,331.85 312.50,332.04 312.75,332.23 313.00,332.41 313.25,332.59 313.50,332.77 313.75,332.95 314.00,333.12 314.25,333.29 314.50,333.46 314.75,333.63 315.00,333.79 315.25,333.95 315.50,334.11 315.75,334.26 316.00,334.42 316.25,334.57 316.50,334.71 316.75,334.86 317.00,335.00 317.25,335.14 317.50,335.28 317.75,335.42 318.00,335.55 318.25,335.68 318.50,335.81 318.75,335.94 319.00,336.07 319.25,336.19 319.50,336.31 319.75,336.43 320.00,336.55 320.25,336.66 320.50,336.78 320.75,336.89 321.00,337.00 321.25,337.11 321.50,337.22 321.75,337.32 322.00,337.42 322.25,337.53 322.50,337.63 322.75,337.72 323.00,337.82 323.25,337.92 323.50,338.01 323.75,338.10 324.00,338.19 324.25,338.28 324.50,338.37 324.75,338.46 325.00,338.54 325.25,338.63 325.50,338.71 325.75,338.79 326.00,338.87 326.25,338.95 326.50,339.02 326.75,339.10 327.00,339.17 327.25,339.25 327.50,339.32 327.75,339.39 328.00,339.46 328.25,339.53 328.50,339.60 328.75,339.66 329.00,339.73 329.25,339.79 329.50,339.86 329.75,339.92 330.00,339.98 330.25,340.04 330.50,340.10 330.75,340.16 331.00,340.22 331.25,340.27 331.50,340.33 331.75,340.39 332.00,340.44 332.25,340.49 332.50,340.54 332.75,340.60 333.00,340.65 333.25,340.70 333.50,340.75 333.75,340.79 334.00,340.84 334.25,340.89 334.50,340.93 334.75,340.98 335.00,341.02 335.25,341.07 335.50,341.11 335.75,341.15 336.00,341.19 336.25,341.23 336.50,341.28 336.75,341.31 337.00,341.35 337.25,341.39 337.50,341.43 337.75,341.47 338.00,341.50 338.25,341.54 338.50,341.57 338.75,341.61 339.00,341.64 339.25,341.68 339.50,341.71 339.75,341.74 340.00,341.78 340.25,341.81 340.50,341.84 340.75,341.87 341.00,341.90 341.25,341.93 341.50,341.96 341.75,341.99 342.00,342.01 342.25,342.04 342.50,342.07 342.75,342.10 343.00,342.12 343.25,342.15 343.50,342.17 343.75,342.20 344.00,342.22 344.25,342.25 344.50,342.27 344.75,342.30 345.00,342.32 345.25,342.34 345.50,342.36 345.75,342.39 346.00,342.41 346.25,342.43 346.50,342.45 346.75,342.47 347.00,342.49 347.25,342.51 347.50,342.53 347.75,342.55 348.00,342.57 348.25,342.59 348.50,342.61 348.75,342.63 349.00,342.64 349.25,342.66 349.50,342.68 349.75,342.70 350.00,342.71 350.25,342.73 350.50,342.75 350.75,342.76 351.00,342.78 351.25,342.79 351.50,342.81 351.75,342.82 352.00,342.84 352.25,342.85 352.50,342.87 352.75,342.88 353.00,342.89 353.25,342.91 353.50,342.92 353.75,342.93 354.00,342.95 354.25,342.96 354.50,342.97 354.75,342.98 355.00,343.00 355.25,343.01 355.50,343.02 355.75,343.03 356.00,343.04 356.25,343.05 356.50,343.07 356.75,343.08 357.00,343.09 357.25,343.10 357.50,343.11 357.75,343.12 358.00,343.13 358.25,343.14 358.50,343.15 358.75,343.16 359.00,343.17 359.25,343.18 359.50,343.18 359.75,343.19 360.00,343.20 360.25,343.21 360.50,343.22 360.75,343.23 361.00,343.24 361.25,343.24 361.50,343.25 361.75,343.26 362.00,343.27 362.25,343.27 362.50,343.28 362.75,343.29 363.00,343.30 363.25,343.30 363.50,343.31 363.75,343.32 364.00,343.32 364.25,343.33 364.50,343.34 364.75,343.34 365.00,343.35 365.25,343.36 365.50,343.36 365.75,343.37 366.00,343.37 366.25,343.38 366.50,343.39 366.75,343.39 367.00,343.40 367.25,343.40 367.50,343.41 367.75,343.41 368.00,343.42 368.25,343.42 368.50,343.43 368.75,343.43 369.00,343.44 369.25,343.44 369.50,343.45 369.75,343.45 370.00,343.46 370.25,343.46 370.50,343.47 370.75,343.47 371.00,343.48 371.25,343.48 371.50,343.48 371.75,343.49 372.00,343.49 372.25,343.50 372.50,343.50 372.75,343.50 373.00,343.51 373.25,343.51 373.50,343.51 373.75,343.52 374.00,343.52 374.25,343.53 374.50,343.53 374.75,343.53 375.00,343.54 375.25,343.54 375.50,343.54 375.75,343.54 376.00,343.55 376.25,343.55 376.50,343.55 376.75,343.56 377.00,343.56 377.25,343.56 377.50,343.57 377.75,343.57 378.00,343.57 378.25,343.57 378.50,343.58 378.75,343.58 379.00,343.58 379.25,343.58 379.50,343.59 379.75,343.59 380.00,343.59 380.25,343.59 380.50,343.60 380.75,343.60 381.00,343.60 381.25,343.60 381.50,343.60 381.75,343.61 382.00,343.61 382.25,343.61 382.50,343.61 382.75,343.62 383.00,343.62 383.25,343.62 383.50,343.62 383.75,343.62 384.00,343.62 384.25,343.63 384.50,343.63 384.75,343.63 385.00,343.63 385.25,343.63 385.50,343.64 385.75,343.64 386.00,343.64" fill="none" stroke="#3d3d3d" stroke-width="3.9" stroke-linecap="round" stroke-linejoin="round"/>
<polyline clip-path="url(#dclip)" points="277.25,394.38 277.50,393.78 277.75,393.18 278.00,392.57 278.25,391.97 278.50,391.37 278.75,390.77 279.00,390.17 279.25,389.57 279.50,388.98 279.75,388.38 280.00,387.79 280.25,387.20 280.50,386.61 280.75,386.02 281.00,385.43 281.25,384.85 281.50,384.27 281.75,383.69 282.00,383.11 282.25,382.53 282.50,381.96 282.75,381.39 283.00,380.82 283.25,380.25 283.50,379.69 283.75,379.13 284.00,378.57 284.25,378.02 284.50,377.47 284.75,376.92 285.00,376.37 285.25,375.83 285.50,375.29 285.75,374.76 286.00,374.22 286.25,373.69 286.50,373.17 286.75,372.65 287.00,372.13 287.25,371.61 287.50,371.10 287.75,370.59 288.00,370.09 288.25,369.59 288.50,369.09 288.75,368.60 289.00,368.11 289.25,367.62 289.50,367.14 289.75,366.66 290.00,366.19 290.25,365.72 290.50,365.26 290.75,364.80 291.00,364.34 291.25,363.89 291.50,363.44 291.75,362.99 292.00,362.55 292.25,362.11 292.50,361.68 292.75,361.25 293.00,360.83 293.25,360.41 293.50,359.99 293.75,359.58 294.00,359.18 294.25,358.77 294.50,358.37 294.75,357.98 295.00,357.59 295.25,357.20 295.50,356.82 295.75,356.44 296.00,356.07 296.25,355.70 296.50,355.34 296.75,354.98 297.00,354.62 297.25,354.27 297.50,353.92 297.75,353.57 298.00,353.23 298.25,352.90 298.50,352.56 298.75,352.23 299.00,351.91 299.25,351.59 299.50,351.27 299.75,350.96 300.00,350.65 300.25,350.35 300.50,350.05 300.75,349.75 301.00,349.46 301.25,349.17 301.50,348.88 301.75,348.60 302.00,348.32 302.25,348.05 302.50,347.78 302.75,347.51 303.00,347.24 303.25,346.98 303.50,346.73 303.75,346.48 304.00,346.23 304.25,345.98 304.50,345.74 304.75,345.50 305.00,345.26 305.25,345.03 305.50,344.80 305.75,344.57 306.00,344.35 306.25,344.13 306.50,343.91 306.75,343.70 307.00,343.49 307.25,343.28 307.50,343.08 307.75,342.88 308.00,342.68 308.25,342.48 308.50,342.29 308.75,342.10 309.00,341.91 309.25,341.73 309.50,341.55 309.75,341.37 310.00,341.19 310.25,341.02 310.50,340.85 310.75,340.68 311.00,340.51 311.25,340.35 311.50,340.19 311.75,340.03 312.00,339.88 312.25,339.72 312.50,339.57 312.75,339.43 313.00,339.28 313.25,339.14 313.50,338.99 313.75,338.85 314.00,338.72 314.25,338.58 314.50,338.45 314.75,338.32 315.00,338.19 315.25,338.06 315.50,337.94 315.75,337.82 316.00,337.69 316.25,337.58 316.50,337.46 316.75,337.34 317.00,337.23 317.25,337.12 317.50,337.01 317.75,336.90 318.00,336.80 318.25,336.69 318.50,336.59 318.75,336.49 319.00,336.39 319.25,336.29 319.50,336.20 319.75,336.10 320.00,336.01 320.25,335.92 320.50,335.83 320.75,335.74 321.00,335.65 321.25,335.57 321.50,335.48 321.75,335.40 322.00,335.32 322.25,335.24 322.50,335.16 322.75,335.08 323.00,335.01 323.25,334.93 323.50,334.86 323.75,334.79 324.00,334.71 324.25,334.65 324.50,334.58 324.75,334.51 325.00,334.44 325.25,334.38 325.50,334.31 325.75,334.25 326.00,334.19 326.25,334.13 326.50,334.07 326.75,334.01 327.00,333.95 327.25,333.89 327.50,333.84 327.75,333.78 328.00,333.73 328.25,333.68 328.50,333.62 328.75,333.57 329.00,333.52 329.25,333.47 329.50,333.42 329.75,333.38 330.00,333.33 330.25,333.28 330.50,333.24 330.75,333.19 331.00,333.15 331.25,333.11 331.50,333.06 331.75,333.02 332.00,332.98 332.25,332.94 332.50,332.90 332.75,332.86 333.00,332.82 333.25,332.79 333.50,332.75 333.75,332.71 334.00,332.68 334.25,332.64 334.50,332.61 334.75,332.57 335.00,332.54 335.25,332.51 335.50,332.48 335.75,332.45 336.00,332.41 336.25,332.38 336.50,332.35 336.75,332.32 337.00,332.30 337.25,332.27 337.50,332.24 337.75,332.21 338.00,332.19 338.25,332.16 338.50,332.13 338.75,332.11 339.00,332.08 339.25,332.06 339.50,332.03 339.75,332.01 340.00,331.99 340.25,331.96 340.50,331.94 340.75,331.92 341.00,331.90 341.25,331.88 341.50,331.85 341.75,331.83 342.00,331.81 342.25,331.79 342.50,331.77 342.75,331.76 343.00,331.74 343.25,331.72 343.50,331.70 343.75,331.68 344.00,331.66 344.25,331.65 344.50,331.63 344.75,331.61 345.00,331.60 345.25,331.58 345.50,331.57 345.75,331.55 346.00,331.53 346.25,331.52 346.50,331.50 346.75,331.49 347.00,331.48 347.25,331.46 347.50,331.45 347.75,331.44 348.00,331.42 348.25,331.41 348.50,331.40 348.75,331.38 349.00,331.37 349.25,331.36 349.50,331.35 349.75,331.34 350.00,331.32 350.25,331.31 350.50,331.30 350.75,331.29 351.00,331.28 351.25,331.27 351.50,331.26 351.75,331.25 352.00,331.24 352.25,331.23 352.50,331.22 352.75,331.21 353.00,331.20 353.25,331.19 353.50,331.18 353.75,331.18 354.00,331.17 354.25,331.16 354.50,331.15 354.75,331.14 355.00,331.13 355.25,331.13 355.50,331.12 355.75,331.11 356.00,331.10 356.25,331.10 356.50,331.09 356.75,331.08 357.00,331.07 357.25,331.07 357.50,331.06 357.75,331.05 358.00,331.05 358.25,331.04 358.50,331.04 358.75,331.03 359.00,331.02 359.25,331.02 359.50,331.01 359.75,331.01 360.00,331.00 360.25,330.99 360.50,330.99 360.75,330.98 361.00,330.98 361.25,330.97 361.50,330.97 361.75,330.96 362.00,330.96 362.25,330.95 362.50,330.95 362.75,330.94 363.00,330.94 363.25,330.94 363.50,330.93 363.75,330.93 364.00,330.92 364.25,330.92 364.50,330.91 364.75,330.91 365.00,330.91 365.25,330.90 365.50,330.90 365.75,330.90 366.00,330.89 366.25,330.89 366.50,330.89 366.75,330.88 367.00,330.88 367.25,330.87 367.50,330.87 367.75,330.87 368.00,330.87 368.25,330.86 368.50,330.86 368.75,330.86 369.00,330.85 369.25,330.85 369.50,330.85 369.75,330.84 370.00,330.84 370.25,330.84 370.50,330.84 370.75,330.83 371.00,330.83 371.25,330.83 371.50,330.83 371.75,330.82 372.00,330.82 372.25,330.82 372.50,330.82 372.75,330.82 373.00,330.81 373.25,330.81 373.50,330.81 373.75,330.81 374.00,330.80 374.25,330.80 374.50,330.80 374.75,330.80 375.00,330.80 375.25,330.79 375.50,330.79 375.75,330.79 376.00,330.79 376.25,330.79 376.50,330.79 376.75,330.78 377.00,330.78 377.25,330.78 377.50,330.78 377.75,330.78 378.00,330.78 378.25,330.77 378.50,330.77 378.75,330.77 379.00,330.77 379.25,330.77 379.50,330.77 379.75,330.77 380.00,330.77 380.25,330.76 380.50,330.76 380.75,330.76 381.00,330.76 381.25,330.76 381.50,330.76 381.75,330.76 382.00,330.76 382.25,330.75 382.50,330.75 382.75,330.75 383.00,330.75 383.25,330.75 383.50,330.75 383.75,330.75 384.00,330.75 384.25,330.75 384.50,330.75 384.75,330.74 385.00,330.74 385.25,330.74 385.50,330.74 385.75,330.74 386.00,330.74" fill="none" stroke="#d9302a" stroke-width="5.1" stroke-linecap="round" stroke-linejoin="round"/>
<line x1="319.2" y1="283.2" x2="319.2" y2="394" stroke="#000" stroke-width="1.5" stroke-dasharray="3.2,1.8"/>
<text x="0" y="0" font-size="10.4" fill="#1a1a1a" transform="translate(240,373) rotate(-90)"><tspan font-style="italic">R</tspan><tspan font-style="italic" font-size="7" dy="2">p</tspan><tspan dy="-2" dx="1.2"> (mA cm</tspan><tspan font-size="7.6" dy="-4.2">-2</tspan><tspan dy="4.2">)</tspan></text>
<text x="0" y="0" font-size="10.4" fill="#d9302a" font-style="italic" transform="translate(426.3,346.8) rotate(-90)">λ</text>
<text x="292.7" y="420.4" font-size="10.4" fill="#1a1a1a" text-anchor="start" font-weight="normal" ><tspan font-style="italic">c</tspan><tspan font-size="5.6" dy="1.6">Li</tspan><tspan font-size="5" dy="-3.2">+</tspan><tspan dy="1.6"> of medium (M)</tspan></text>
<text x="444.3" y="273" font-size="13" fill="#000" text-anchor="start" font-weight="bold" >e</text>
<text x="462.7" y="287.6" font-size="10" fill="#1a1a1a" text-anchor="start" font-weight="normal" >Prelithiation degree upon electrode depth</text>
<line x1="481.3" y1="295.5" x2="481.3" y2="395.4" stroke="#000" stroke-width="1.4"/>
<line x1="481.5" y1="296.2" x2="484.6" y2="296.2" stroke="#000" stroke-width="1.3"/>
<text x="479.2" y="299.09999999999997" font-size="8.9" fill="#1a1a1a" text-anchor="end" font-weight="normal" >0</text>
<line x1="481.5" y1="315.9" x2="484.6" y2="315.9" stroke="#000" stroke-width="1.3"/>
<text x="479.2" y="318.79999999999995" font-size="8.9" fill="#1a1a1a" text-anchor="end" font-weight="normal" >10</text>
<line x1="481.5" y1="335.59999999999997" x2="484.6" y2="335.59999999999997" stroke="#000" stroke-width="1.3"/>
<line x1="481.5" y1="355.3" x2="484.6" y2="355.3" stroke="#000" stroke-width="1.3"/>
<text x="479.2" y="358.2" font-size="8.9" fill="#1a1a1a" text-anchor="end" font-weight="normal" >30</text>
<line x1="481.5" y1="375.0" x2="484.6" y2="375.0" stroke="#000" stroke-width="1.3"/>
<line x1="481.5" y1="394.7" x2="484.6" y2="394.7" stroke="#000" stroke-width="1.3"/>
<text x="479.2" y="397.59999999999997" font-size="8.9" fill="#1a1a1a" text-anchor="end" font-weight="normal" >50</text>
<rect x="487.7" y="296.6" width="24.6" height="100.1" fill="url(#bar0)"/>
<text x="500.3" y="408.5" font-size="9.8" fill="#1a1a1a" text-anchor="middle" font-weight="normal" >1</text>
<rect x="524.85" y="296.6" width="24.6" height="100.1" fill="url(#bar1)"/>
<text x="537.45" y="408.5" font-size="9.8" fill="#1a1a1a" text-anchor="middle" font-weight="normal" >0.1</text>
<rect x="562.0" y="296.6" width="24.6" height="100.1" fill="url(#bar2)"/>
<text x="574.6" y="408.5" font-size="9.8" fill="#1a1a1a" text-anchor="middle" font-weight="normal" >0.01</text>
<rect x="599.15" y="296.6" width="24.6" height="100.1" fill="url(#bar3)"/>
<text x="611.75" y="408.5" font-size="9.8" fill="#1a1a1a" text-anchor="middle" font-weight="normal" >0.001</text>
<text x="0" y="0" font-size="10" fill="#1a1a1a" transform="translate(463,398.5) rotate(-90)">Depth of electrode (μm)</text>
<text x="520.5" y="420" font-size="9.7" fill="#1a1a1a" text-anchor="start" font-weight="normal" ><tspan font-style="italic">c</tspan><tspan font-size="5.6" dy="1.6">Li</tspan><tspan font-size="5" dy="-3.2">+</tspan><tspan dy="1.6"> of medium (M)</tspan></text>
<rect x="638.8" y="326.7" width="10.9" height="71" fill="url(#ecbar)"/>
<line x1="649.7" y1="326.8" x2="651.2" y2="326.8" stroke="#333" stroke-width="0.9"/>
<text x="652.6" y="329.90000000000003" font-size="8.5" fill="#1a1a1a" text-anchor="start" font-weight="normal" >17.5</text>
<line x1="649.7" y1="340.75" x2="651.2" y2="340.75" stroke="#333" stroke-width="0.9"/>
<text x="652.6" y="343.85" font-size="8.5" fill="#1a1a1a" text-anchor="start" font-weight="normal" >15.3</text>
<line x1="649.7" y1="354.7" x2="651.2" y2="354.7" stroke="#333" stroke-width="0.9"/>
<text x="652.6" y="357.8" font-size="8.5" fill="#1a1a1a" text-anchor="start" font-weight="normal" >13.1</text>
<line x1="649.7" y1="368.65" x2="651.2" y2="368.65" stroke="#333" stroke-width="0.9"/>
<text x="652.6" y="371.75" font-size="8.5" fill="#1a1a1a" text-anchor="start" font-weight="normal" >10.9</text>
<line x1="649.7" y1="382.6" x2="651.2" y2="382.6" stroke="#333" stroke-width="0.9"/>
<text x="652.6" y="385.70000000000005" font-size="8.5" fill="#1a1a1a" text-anchor="start" font-weight="normal" >8.8</text>
<line x1="649.7" y1="396.55" x2="651.2" y2="396.55" stroke="#333" stroke-width="0.9"/>
<text x="652.6" y="399.65000000000003" font-size="8.5" fill="#1a1a1a" text-anchor="start" font-weight="normal" >6.6</text>
<text x="0" y="0" font-size="10.4" fill="#1a1a1a" transform="translate(683.8,400.3) rotate(-90)"><tspan font-size="10.2">Li content </tspan><tspan font-size="8.6">(mol L</tspan><tspan font-size="6" dy="-3.5">-1</tspan><tspan font-size="8.6" dy="3.5">)</tspan></text>
</svg></body></html>
